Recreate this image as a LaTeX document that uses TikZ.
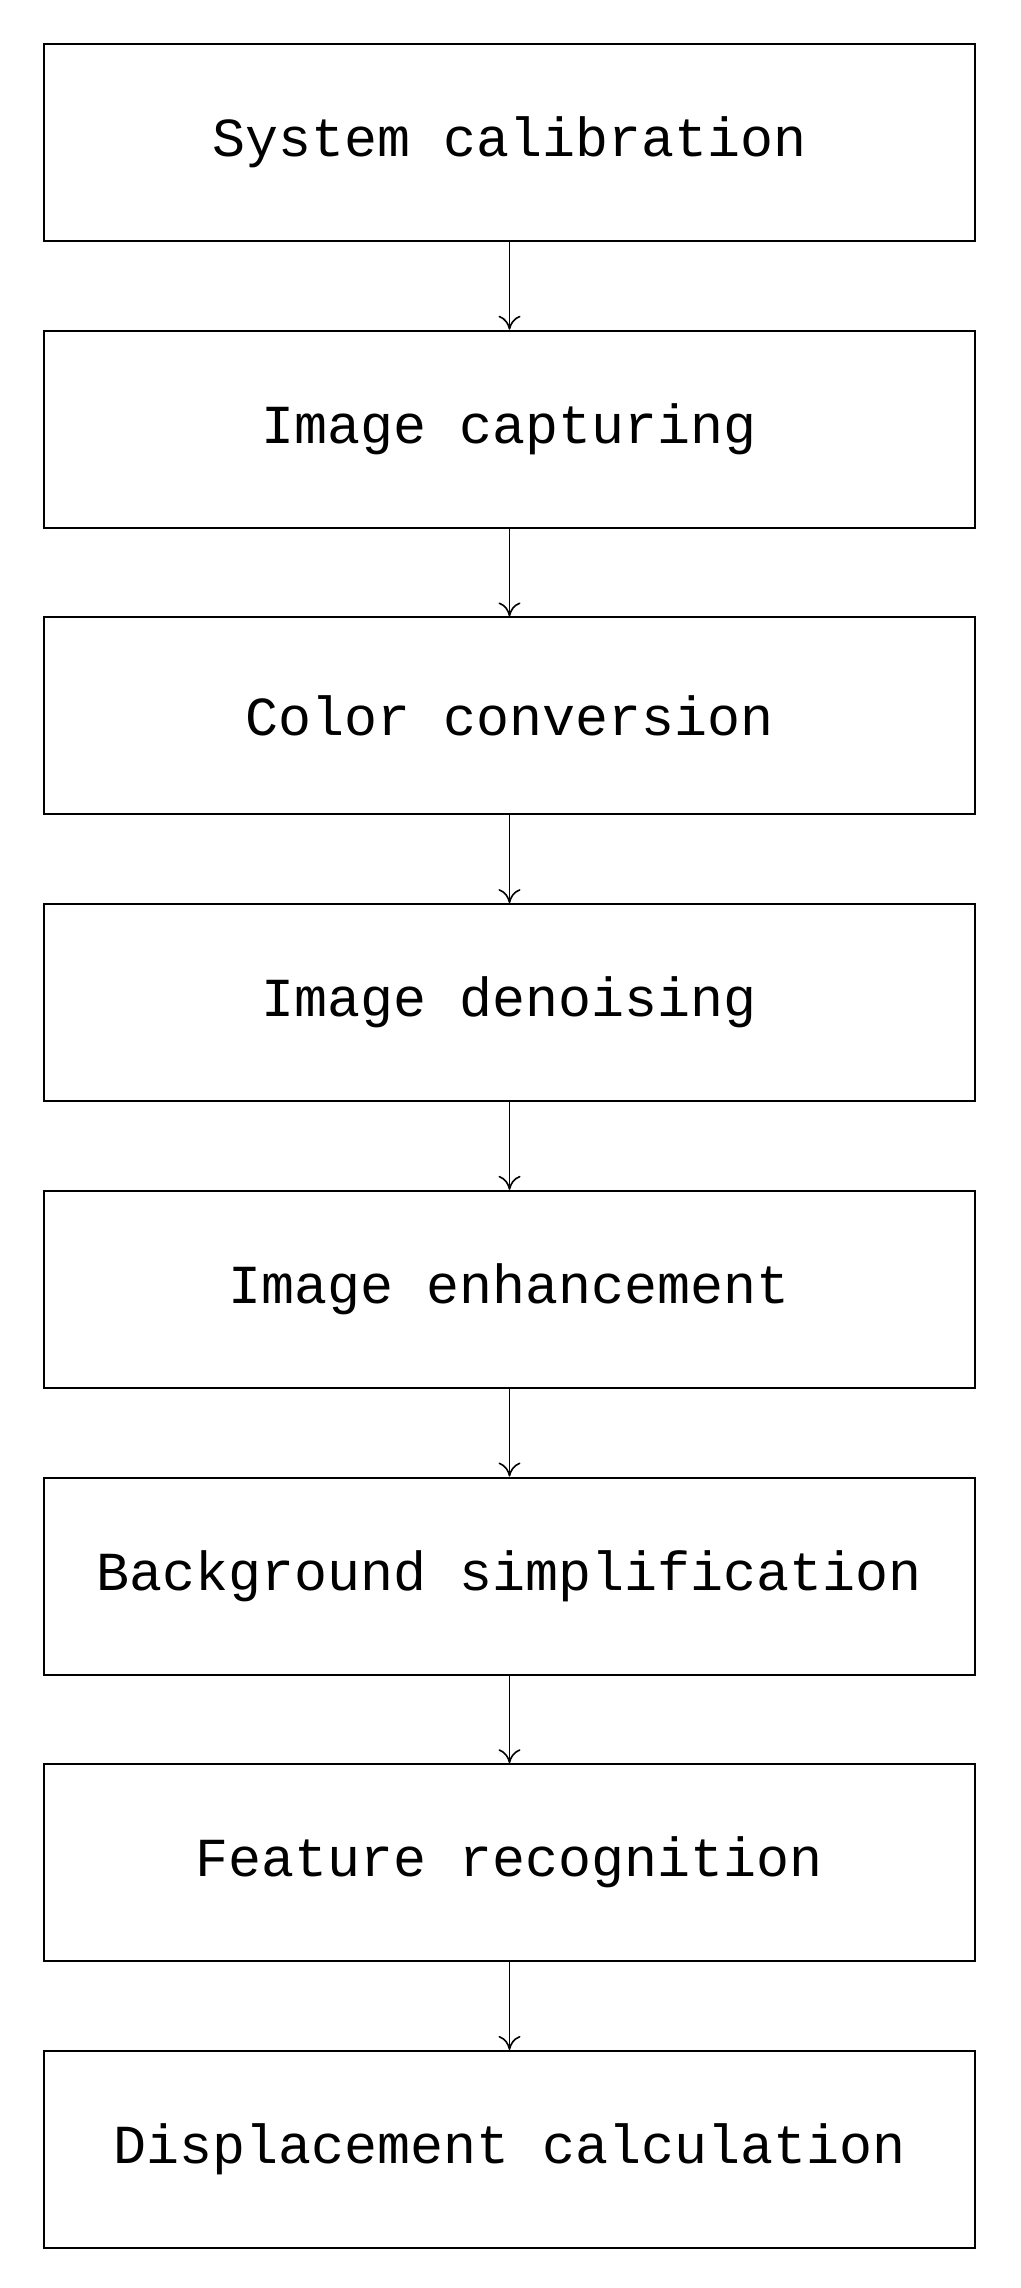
\documentclass[tikz,border=0pt]{standalone}
\usepackage{fontspec}
\setmonofont{Liberation Mono}
\usetikzlibrary{arrows.meta}
\begin{document}
\begin{tikzpicture}[x=1pt,y=1pt,
  stepbox/.style={draw,line width=2pt,minimum width=931pt,minimum height=197pt,font=\ttfamily\fontsize{55}{55}\selectfont,inner sep=0pt},
  conn/.style={line width=1.6pt,-{To[length=14pt,width=22pt]}}]
\useasboundingbox (0,0) rectangle (1020,-2288);
\foreach \n/\t [count=\i from 0] in {a/System calibration,b/Image capturing,c/Color conversion,d/Image denoising,e/Image enhancement,f/Background simplification,g/Feature recognition,h/Displacement calculation}{
  \node[stepbox] (\n) at (509.5,{-142.5-\i*286.7}) {\t};
}
\foreach \p/\q in {a/b,b/c,c/d,d/e,e/f,f/g,g/h}{
  \draw[conn] (\p.south) -- (\q.north);
}
\end{tikzpicture}
\end{document}
